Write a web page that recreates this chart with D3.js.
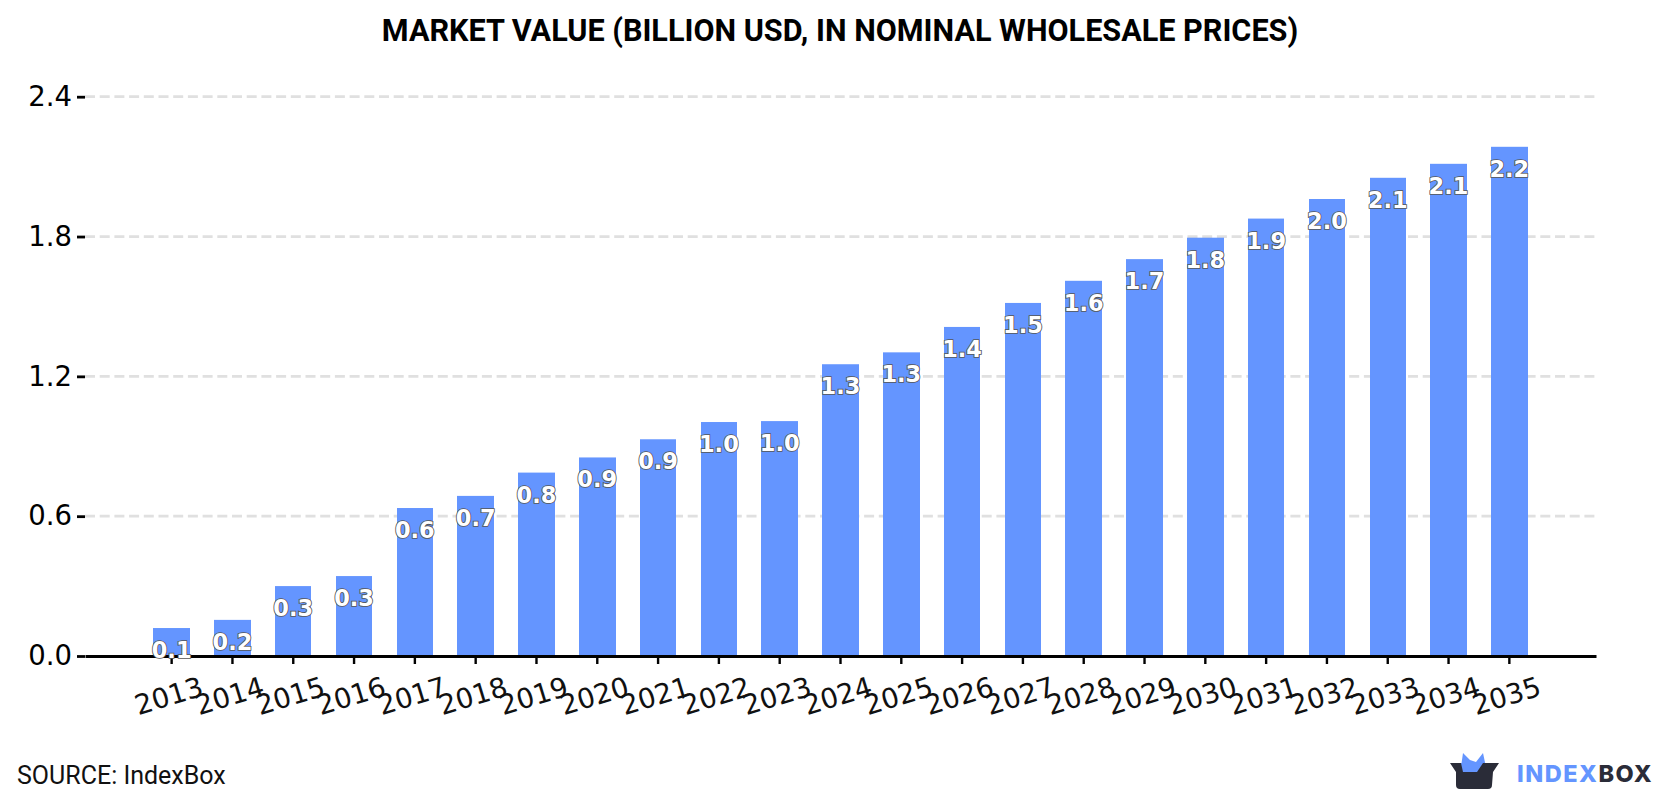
<!DOCTYPE html>
<html>
<head>
<meta charset="utf-8">
<script src="https://cdn.jsdelivr.net/npm/d3@7"></script>
<style>
  html, body { margin: 0; padding: 0; background: #fff; }
  svg { display: block; }
</style>
</head>
<body>
<svg id="chart" width="1680" height="800"></svg>
<script>
const years = ["2013","2014","2015","2016","2017","2018","2019","2020","2021","2022","2023","2024",
  "2025","2026","2027","2028","2029","2030","2031","2032","2033","2034","2035"];
const marketValue = [0.12,0.155,0.30,0.343,0.635,0.687,0.787,0.852,0.93,1.004,1.008,1.252,
  1.303,1.412,1.515,1.61,1.703,1.795,1.877,1.961,2.052,2.112,2.185];
const valueTicks = [0,0.6,1.2,1.8,2.4];
const titleText = "MARKET VALUE (BILLION USD, IN NOMINAL WHOLESALE PRICES)";
const sourceText = "SOURCE: IndexBox";

const svg = d3.select("#chart");
const sansFont = "'DejaVu Sans', sans-serif";
const barColor = "#6495ff";

const x = d3.scaleBand().domain(years).range([85, 1596]).paddingInner(0.4).paddingOuter(1.125);
const y = d3.scaleLinear().domain([0, 2.4]).range([656, 96.7]);

// Title
svg.append("text")
  .attr("x", 840).attr("y", 41)
  .attr("text-anchor", "middle")
  .attr("font-family", "Roboto, sans-serif")
  .attr("font-weight", 700)
  .attr("font-size", 30.6)
  .attr("fill", "#000")
  .text(titleText);

// Dashed horizontal grid
svg.append("g").selectAll("line")
  .data(valueTicks.filter(d => d > 0))
  .join("line")
  .attr("x1", 85).attr("x2", 1597)
  .attr("y1", d => y(d)).attr("y2", d => y(d))
  .attr("stroke", "#e0e0e0")
  .attr("stroke-width", 2.8)
  .attr("stroke-dasharray", "10,4.7");

// Bars, with edges snapped to whole pixels
svg.append("g").selectAll("rect")
  .data(marketValue)
  .join("rect")
  .attr("x", (d, i) => Math.round(x(years[i])))
  .attr("width", (d, i) => Math.round(x(years[i]) + x.bandwidth()) - Math.round(x(years[i])))
  .attr("y", d => y(d))
  .attr("height", d => y(0) - y(d))
  .attr("fill", barColor);

// Left axis
const yAxis = svg.append("g")
  .attr("transform", "translate(85,0)")
  .call(d3.axisLeft(y).tickValues(valueTicks).tickFormat(d3.format(".1f")).tickSize(8).tickPadding(5));
yAxis.select(".domain").remove();
yAxis.selectAll(".tick line").attr("stroke", "#000").attr("stroke-width", 2.8);
yAxis.selectAll("text")
  .attr("font-family", sansFont)
  .attr("font-size", 27.5)
  .attr("fill", "#000");

// Bottom axis
const xAxis = svg.append("g")
  .attr("transform", "translate(0,656)")
  .call(d3.axisBottom(x).tickSize(8).tickSizeOuter(0));
xAxis.select(".domain").attr("stroke", "#000").attr("stroke-width", 3);
xAxis.selectAll(".tick line").attr("stroke", "#000").attr("stroke-width", 2.4);
xAxis.selectAll("text")
  .attr("font-family", sansFont)
  .attr("font-size", 27.5)
  .attr("fill", "#111")
  .attr("text-anchor", "middle")
  .attr("y", 0).attr("dy", 0)
  .attr("transform", "translate(0,49) rotate(-17)");

// Value labels inside the bars
svg.append("g").selectAll("text")
  .data(marketValue)
  .join("text")
  .attr("x", (d, i) => x(years[i]) + x.bandwidth() / 2)
  .attr("y", d => y(d) + 30)
  .attr("text-anchor", "middle")
  .attr("font-family", sansFont)
  .attr("font-weight", 700)
  .attr("font-size", 22.5)
  .attr("fill", "#fff")
  .attr("stroke", "#555")
  .attr("stroke-width", 1.7)
  .attr("paint-order", "stroke")
  .text(d => d3.format(".1f")(d));

// Source note
svg.append("text")
  .attr("x", 17).attr("y", 784)
  .attr("font-family", "Roboto, sans-serif")
  .attr("font-size", 25)
  .attr("fill", "#111")
  .text(sourceText);

// Brand mark: open box with a blue crown rising out of it
const logo = svg.append("g");
logo.append("path")
  .attr("d", "M1461 767 L1463 753 L1470 760 L1476 762 L1483 753 L1486 767 L1478 772 L1474 773 L1462 773 Z")
  .attr("fill", barColor);
logo.append("path")
  .attr("d", "M1450 763 L1499 763 L1493 772 L1492 785 Q1492 789 1488 789 L1460 789 Q1456 789 1456 785 L1456 772 Z")
  .attr("fill", "#2a2c38");
logo.append("path")
  .attr("d", "M1461 763 L1483 763 L1477 772 L1463 772 Z")
  .attr("fill", barColor);

const wordmark = svg.append("text")
  .attr("x", 1517).attr("y", 782)
  .attr("font-family", "Inter, sans-serif")
  .attr("font-weight", 800)
  .attr("font-size", 23.5)
  .attr("letter-spacing", 1.5);
wordmark.append("tspan").attr("fill", barColor).text("INDEX");
wordmark.append("tspan").attr("fill", "#2a2c38").text("BOX");
</script>
</body>
</html>
